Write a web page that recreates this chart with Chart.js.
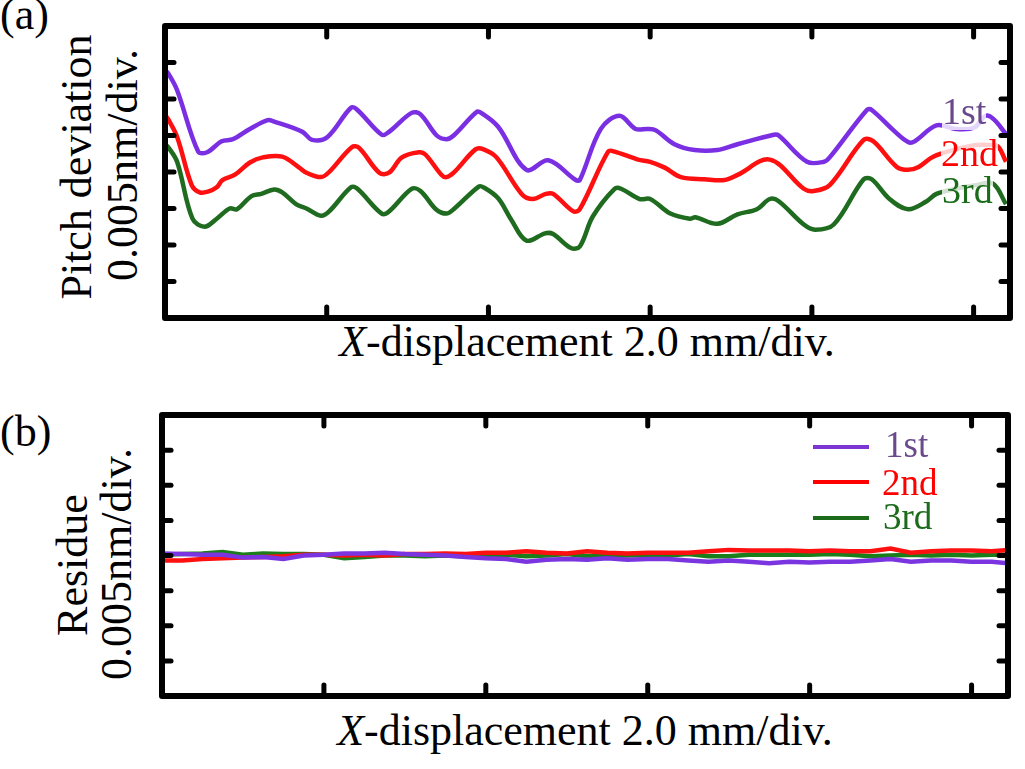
<!DOCTYPE html>
<html>
<head>
<meta charset="utf-8">
<script src="https://cdn.jsdelivr.net/npm/chart.js@4.4.1/dist/chart.umd.min.js"></script>
<style>
    body { margin: 0; background: #fff; font-family: 'Liberation Serif', 'Times New Roman', serif; }
    #page { position: relative; width: 1025px; height: 769px; overflow: hidden; color: #000; }
    .box { position: absolute; }
    .txt, .xlab, .ylab, .tag { font-family: 'Liberation Serif', 'Times New Roman', serif; }
    .txt { position: absolute; line-height: 1; white-space: nowrap; }
    .xlab { position: absolute; width: 1000px; text-align: center; font-size: 44px; line-height: 1; white-space: nowrap; }
    .ylab { position: absolute; width: 400px; height: 44px; font-size: 44px; line-height: 1; text-align: center; white-space: nowrap; transform: rotate(-90deg); }
    .tag { position: absolute; font-size: 38px; line-height: 1; background: rgba(255, 255, 255, 0.8); white-space: nowrap; }
    .key { position: absolute; height: 4px; width: 56px; }
</style>
</head>
<body>
<div id="page">
    <div class="txt" style="left:0px; top:-7px; font-size:44px;">(a)</div>
    <div class="txt" style="left:0px; top:410px; font-size:44px;">(b)</div>

    <!-- panel (a) axis titles -->
    <div class="ylab" style="left:-123px; top:145px;">Pitch deviation</div>
    <div class="ylab" style="left:-77px; top:143px;">0.005nm/div.</div>
    <div class="xlab" style="left:87px; top:320px;"><i>X</i>-displacement 2.0 mm/div.</div>

    <!-- panel (b) axis titles -->
    <div class="ylab" style="left:-127px; top:543px;">Residue</div>
    <div class="ylab" style="left:-83px; top:542px;">0.005nm/div.</div>
    <div class="xlab" style="left:85px; top:709px;"><i>X</i>-displacement 2.0 mm/div.</div>

    <div class="box" style="left:150px; top:10px; width:875px; height:315px;"><canvas id="chartA" width="875" height="315"></canvas></div>
    <div class="box" style="left:150px; top:400px; width:875px; height:310px;"><canvas id="chartB" width="875" height="310"></canvas></div>

    <!-- curve labels (a) -->
    <div class="tag" style="left:942px; top:92px; color:#6a4a8c;">1st</div>
    <div class="tag" style="left:941px; top:134px; color:#ff0000;">2nd</div>
    <div class="tag" style="left:942px; top:171px; color:#1b6b1b;">3rd</div>

    <!-- legend (b) -->
    <div class="key" style="left:813px; top:445px; background:#7b35d0;"></div>
    <div class="key" style="left:813px; top:480px; background:#ff0000;"></div>
    <div class="key" style="left:813px; top:516px; background:#1b6b1b;"></div>
    <div class="txt" style="left:885px; top:426px; font-size:37px; color:#6a4a8c;">1st</div>
    <div class="txt" style="left:882px; top:464px; font-size:37px; color:#ff0000;">2nd</div>
    <div class="txt" style="left:883px; top:498px; font-size:37px; color:#1b6b1b;">3rd</div>
</div>

<script>
// X positions in mm, values in pm (1 div = 5 pm = 0.005 nm)
const xTicks = [2, 4, 6, 8, 10];
const devTicks = [5, 10, 15, 20, 25, 30, 35];
const resTicks = [-15, -10, -5, 0, 5, 10, 15];

// (a) pitch deviation
const devX1st = [0.00, 0.04, 0.15, 0.41, 0.52, 0.70, 0.84, 1.05, 1.27, 1.35, 1.70, 1.82, 2.01, 2.30, 2.38, 2.68, 2.77, 3.05, 3.16, 3.36, 3.48, 3.57, 3.85, 3.91, 4.12, 4.47, 4.74, 5.08, 5.13, 5.39, 5.62, 5.82, 5.97, 6.07, 6.30, 6.55, 6.83, 7.08, 7.53, 7.59, 7.94, 8.15, 8.22, 8.68, 8.74, 9.01, 9.19, 9.27, 9.54, 9.78, 10.01, 10.15, 10.25, 10.40];
const dev1st = [34.0, 33.5, 31.2, 22.8, 22.7, 24.2, 24.5, 25.9, 27.1, 26.9, 25.5, 24.4, 24.8, 28.8, 28.5, 25.1, 25.5, 28.1, 27.9, 25.0, 24.5, 25.0, 28.2, 28.1, 26.2, 20.3, 21.6, 18.9, 18.9, 25.9, 27.7, 25.9, 25.9, 25.7, 23.8, 23.0, 23.0, 23.8, 25.1, 25.0, 21.4, 21.4, 22.0, 28.5, 28.5, 25.7, 24.1, 24.2, 26.4, 25.9, 26.1, 27.7, 27.2, 25.2];

const devX2nd = [0.00, 0.04, 0.15, 0.33, 0.43, 0.53, 0.64, 0.71, 0.86, 1.05, 1.21, 1.45, 1.66, 1.75, 1.93, 2.03, 2.31, 2.40, 2.65, 2.77, 2.93, 3.14, 3.22, 3.42, 3.48, 3.57, 3.84, 3.94, 4.10, 4.41, 4.55, 4.71, 4.80, 5.05, 5.13, 5.48, 5.56, 5.85, 6.00, 6.18, 6.38, 6.67, 6.92, 7.08, 7.48, 7.90, 8.02, 8.22, 8.64, 8.76, 9.05, 9.19, 9.32, 9.50, 9.78, 10.03, 10.19, 10.30, 10.40];
const dev2nd = [27.8, 27.2, 24.8, 18.2, 17.2, 17.3, 17.9, 18.9, 19.6, 21.3, 22.0, 22.1, 20.6, 19.9, 19.3, 20.0, 23.4, 23.3, 19.9, 19.9, 22.0, 22.7, 22.4, 19.6, 19.3, 19.9, 23.1, 23.1, 22.0, 17.0, 16.3, 17.0, 17.0, 14.6, 14.9, 22.8, 22.8, 21.7, 21.4, 20.6, 19.3, 19.0, 18.9, 19.6, 21.7, 17.7, 17.4, 18.2, 24.4, 24.2, 20.7, 20.3, 20.7, 22.1, 23.1, 23.7, 23.7, 23.5, 21.4];

const devX3rd = [0.00, 0.04, 0.15, 0.34, 0.49, 0.64, 0.80, 0.89, 1.07, 1.19, 1.35, 1.45, 1.62, 1.75, 1.93, 2.03, 2.30, 2.38, 2.68, 2.77, 3.05, 3.16, 3.35, 3.48, 3.57, 3.88, 3.94, 4.12, 4.28, 4.47, 4.70, 4.80, 5.02, 5.13, 5.29, 5.56, 5.64, 5.87, 6.00, 6.25, 6.49, 6.56, 6.83, 7.08, 7.32, 7.48, 7.59, 7.90, 8.04, 8.27, 8.64, 8.74, 8.96, 9.19, 9.42, 9.54, 9.78, 10.03, 10.24, 10.40];
const dev3rd = [23.8, 23.4, 21.4, 13.6, 12.5, 13.6, 15.0, 14.9, 16.7, 17.0, 17.6, 17.2, 15.6, 15.0, 14.0, 14.6, 17.9, 17.7, 14.3, 14.6, 17.7, 17.4, 14.9, 14.3, 14.9, 18.0, 17.9, 16.4, 13.5, 10.6, 11.6, 11.5, 9.6, 9.8, 13.9, 17.7, 17.7, 16.3, 16.3, 14.3, 13.6, 13.8, 12.9, 14.2, 14.9, 16.3, 16.0, 12.8, 12.1, 12.8, 19.0, 19.0, 16.3, 14.9, 16.0, 17.0, 17.7, 18.2, 18.4, 15.6];

// (b) residue
const resX = [0, 0.25, 0.5, 0.75, 1, 1.25, 1.5, 1.75, 2, 2.25, 2.5, 2.75, 3, 3.25, 3.5, 3.75, 4, 4.25, 4.5, 4.75, 5, 5.25, 5.5, 5.75, 6, 6.25, 6.5, 6.75, 7, 7.25, 7.5, 7.75, 8, 8.25, 8.5, 8.75, 9, 9.25, 9.5, 9.75, 10, 10.25, 10.45];
const res1st = [0.3, 0.2, 0.1, 0.1, -0.3, -0.2, -0.5, 0.0, 0.1, 0.3, 0.3, 0.4, 0.2, 0.1, 0.0, -0.2, -0.4, -0.5, -0.9, -0.6, -0.5, -0.6, -0.4, -0.6, -0.5, -0.5, -0.7, -0.9, -0.7, -0.9, -1.1, -0.9, -1.0, -0.9, -0.9, -0.7, -0.5, -0.9, -0.7, -0.7, -0.9, -0.9, -1.1];
const res2nd = [-0.7, -0.7, -0.5, -0.4, -0.3, -0.2, -0.1, 0.1, 0.1, 0.0, 0.1, 0.0, 0.2, 0.2, 0.3, 0.2, 0.4, 0.4, 0.6, 0.4, 0.3, 0.6, 0.4, 0.3, 0.4, 0.4, 0.4, 0.6, 0.8, 0.7, 0.7, 0.7, 0.6, 0.7, 0.6, 0.6, 1.0, 0.4, 0.6, 0.7, 0.7, 0.6, 0.8];
const res3rd = [0.1, 0.2, 0.3, 0.5, 0.1, 0.3, 0.2, 0.2, 0.1, -0.4, -0.2, 0.0, 0.0, -0.1, 0.0, -0.1, 0.0, 0.1, -0.1, 0.0, 0.2, -0.1, 0.0, 0.0, 0.1, 0.0, 0.2, -0.1, -0.1, 0.1, 0.1, 0.1, 0.1, 0.2, 0.1, -0.1, 0.0, 0.1, 0.0, 0.1, 0.0, 0.1, 0.1];

const X_MAX = 10.45;

function pts(xs, ys) {
    return xs.map((x, i) => ({ x: x, y: ys[i] }));
}

function series(label, xs, ys, color, width, tension) {
    return {
        label: label,
        data: pts(xs, ys),
        borderColor: color,
        borderWidth: width,
        pointRadius: 0,
        tension: tension,
        fill: false
    };
}

// thick frame with inward ticks on all four sides
const frameTicks = {
    id: 'frameTicks',
    afterDatasetsDraw(chart, args, opts) {
        const ctx = chart.ctx;
        const a = chart.chartArea;
        const x = chart.scales.x;
        const y = chart.scales.y;
        const seg = (x1, y1, x2, y2) => {
            ctx.beginPath();
            ctx.moveTo(x1, y1);
            ctx.lineTo(x2, y2);
            ctx.stroke();
        };
        ctx.save();
        ctx.strokeStyle = '#000';
        ctx.lineCap = 'round';
        ctx.lineWidth = 5;
        opts.xTicks.forEach(v => {
            const px = x.getPixelForValue(v);
            seg(px, a.top, px, a.top + 11);
            seg(px, a.bottom, px, a.bottom - 11);
        });
        opts.yTicks.forEach(v => {
            const py = y.getPixelForValue(v);
            seg(a.left, py, a.left + 9, py);
            seg(a.right, py, a.right - 9, py);
        });
        ctx.lineWidth = 6;
        ctx.lineJoin = 'round';
        ctx.strokeRect(a.left, a.top, a.right - a.left, a.bottom - a.top);
        ctx.restore();
    }
};

function makeOptions(padding, yMin, yMax, yTicks) {
    return {
        responsive: false,
        animation: false,
        devicePixelRatio: 1,
        layout: { padding: padding },
        plugins: {
            legend: { display: false },
            tooltip: { enabled: false },
            frameTicks: { xTicks: xTicks, yTicks: yTicks }
        },
        scales: {
            x: { type: 'linear', min: 0, max: X_MAX, display: false },
            y: { type: 'linear', min: yMin, max: yMax, display: false }
        }
    };
}

new Chart(document.getElementById('chartA'), {
    type: 'line',
    data: {
        datasets: [
            series('1st', devX1st, dev1st, '#7b2fe3', 4.5, 0.35),
            series('2nd', devX2nd, dev2nd, '#ff1010', 4.5, 0.35),
            series('3rd', devX3rd, dev3rd, '#1f6b1f', 4.5, 0.35)
        ]
    },
    options: makeOptions({ left: 15, top: 16, right: 15, bottom: 7 }, 0, 40, devTicks),
    plugins: [frameTicks]
});

new Chart(document.getElementById('chartB'), {
    type: 'line',
    data: {
        datasets: [
            series('1st', resX, res1st, '#7b35e0', 4.5, 0),
            series('2nd', resX, res2nd, '#ff1010', 4.5, 0),
            series('3rd', resX, res3rd, '#1a7f1a', 4.5, 0)
        ]
    },
    options: makeOptions({ left: 12, top: 15, right: 17, bottom: 14 }, -20, 20, resTicks),
    plugins: [frameTicks]
});
</script>
</body>
</html>
